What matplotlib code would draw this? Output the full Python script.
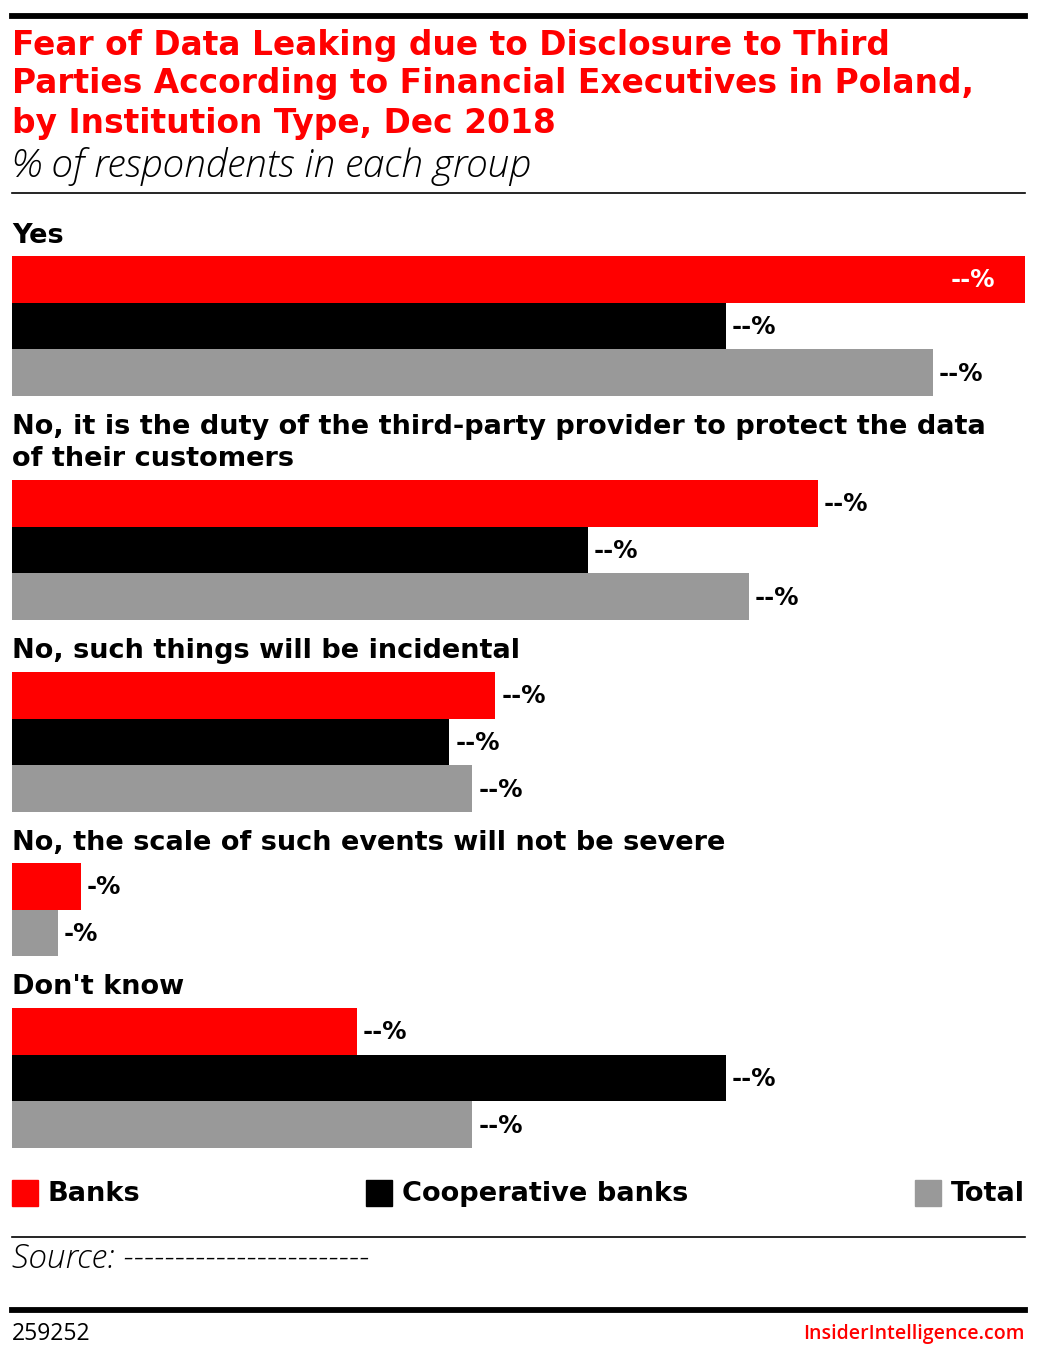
import numpy as np
import matplotlib
matplotlib.use("Agg")
import matplotlib.pyplot as plt

W, H = 1038, 1360

# data (percent of respondents)
categories = ["Yes",
              "No, it is the duty of the third-party provider to protect the data\nof their customers",
              "No, such things will be incidental",
              "No, the scale of such events will not be severe",
              "Don't know"]
series = ["Banks", "Cooperative banks", "Total"]
banks = [44, 35, 21, 3, 15]
coop = [31, 25, 19, 0, 31]
total = [40, 32, 20, 2, 20]
value_labels = [["--%", "--%", "--%"],
                ["--%", "--%", "--%"],
                ["--%", "--%", "--%"],
                ["-%", "", "-%"],
                ["--%", "--%", "--%"]]
colors = ["#ff0000", "#000000", "#999999"]

RED = "#ff0000"
bold = dict(family="DejaVu Sans", weight="bold")

fig = plt.figure(figsize=(W / 100, H / 100), dpi=100)

def fx(x):
    return x / W

def fy(y):
    return 1 - y / H

def hline(y, lw):
    fig.add_artist(plt.Line2D([fx(12), fx(1025)], [fy(y), fy(y)], color="black", lw=lw))

# header
hline(16, 4.2)
title = ["Fear of Data Leaking due to Disclosure to Third",
         "Parties According to Financial Executives in Poland,",
         "by Institution Type, Dec 2018"]
for i, line in enumerate(title):
    fig.text(fx(12), fy(45 + 39 * i), line, color=RED, fontsize=23.7, va="center", **bold)
fig.text(fx(12), fy(166), "% of respondents in each group", fontsize=28, style="italic",
         family="Open Sans", weight="light", va="center")
hline(193, 1.2)

# bars
ax = fig.add_axes([fx(12), 0, fx(1013), 1])
ax.set_xlim(0, 44)
ax.set_ylim(H, 0)
ax.axis("off")

bar_h = 46.7
label_tops = [236, 427, 651, 843, 987]
first_bar = [256, 480, 672, 863, 1008]
for g, cat in enumerate(categories):
    lines = cat.split("\n")
    for k, ln in enumerate(lines):
        ax.text(0, label_tops[g] + 32 * k, ln, fontsize=19.5, va="center", ha="left",
                transform=ax.transData, **bold)
    vals = [banks[g], coop[g], total[g]]
    y = first_bar[g]
    for s, v in enumerate(vals):
        if v == 0:
            continue
        yc = y + bar_h / 2
        ax.barh(yc, v, height=bar_h, color=colors[s], linewidth=0)
        lab = value_labels[g][s]
        if v >= 42:
            ax.text(v - 1.3, yc + 1, lab, color="white", fontsize=17.5, ha="right", va="center", **bold)
        else:
            ax.text(v + 0.25, yc + 1, lab, color="black", fontsize=17.5, ha="left", va="center", **bold)
        y += bar_h

# legend
leg_x = [12, 366, 915]
for s, name in enumerate(series):
    fig.add_artist(plt.Rectangle((fx(leg_x[s]), fy(1206)), fx(26), 26 / H, color=colors[s]))
    fig.text(fx(leg_x[s] + 36), fy(1194), name, fontsize=19.6, va="center", **bold)

hline(1237, 1.2)
fig.text(fx(12), fy(1259), "Source: ------------------------", fontsize=24, style="italic",
         family="Open Sans", weight="light", va="center")
hline(1310, 4.2)
fig.text(fx(12), fy(1334), "259252", fontsize=16.5, family="Open Sans", va="center")
fig.text(fx(1025), fy(1334), "InsiderIntelligence.com", fontsize=14, color=RED,
         family="Open Sans", weight="semibold", ha="right", va="center")

fig.savefig("out.png", dpi=100)
